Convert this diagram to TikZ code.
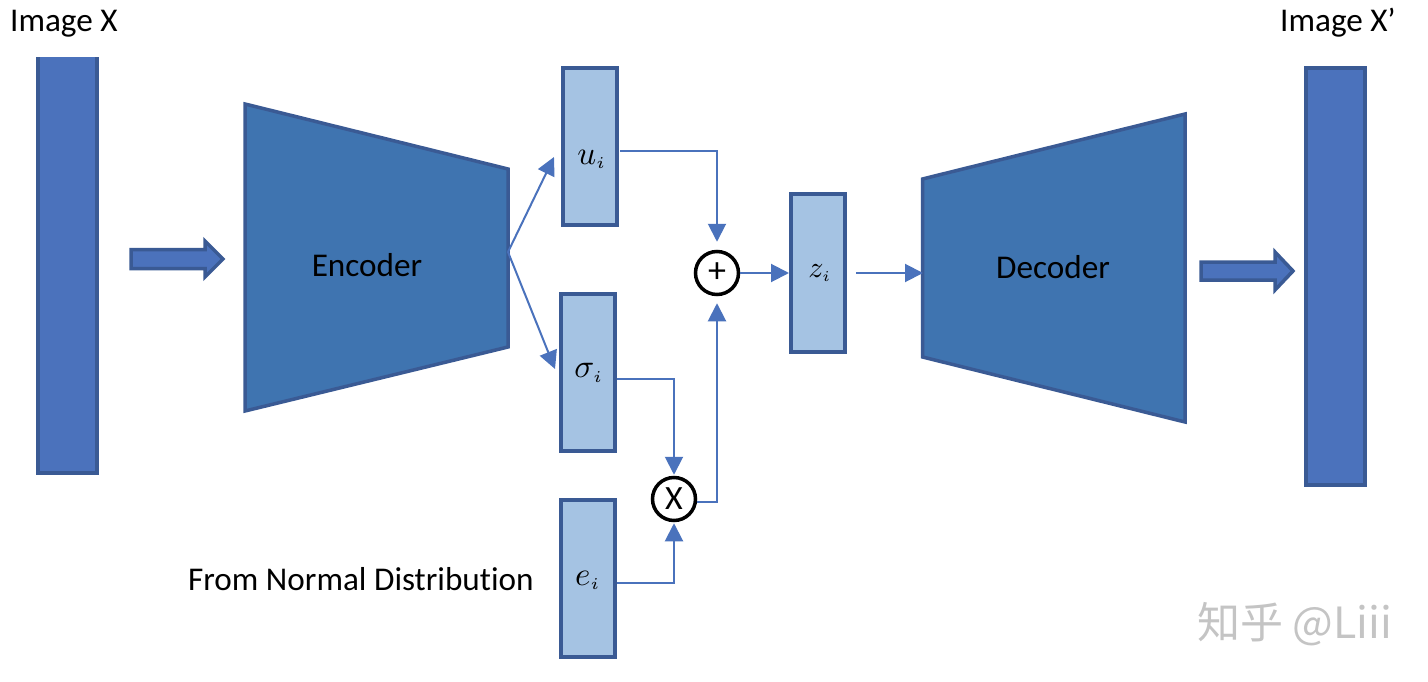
\documentclass[tikz,border=0pt]{standalone}
\usepackage{fontspec}
\setmainfont[Ligatures=NoCommon]{Carlito}
\newfontfamily\cjkwm{Noto Sans CJK SC}
\usetikzlibrary{arrows.meta,calc}
\definecolor{edgeblue}{HTML}{3A5A94}
\definecolor{fillblue}{HTML}{4B72BC}
\definecolor{trapblue}{HTML}{3F74B0}
\definecolor{lightblue}{HTML}{A5C3E3}
\definecolor{linkblue}{HTML}{4A72BC}
\definecolor{wmgrey}{HTML}{C4C4C4}
\newcommand{\latentsym}[2][3.3]{\scalebox{#1}{$#2$}}
\tikzset{
  imgbox/.style={draw=edgeblue,fill=fillblue,line width=4pt,minimum width=59pt,inner sep=0pt},
  latent/.style={draw=edgeblue,fill=lightblue,line width=4pt,minimum width=54pt,minimum height=157pt,inner sep=0pt},
  trap/.style={draw=edgeblue,fill=trapblue,line width=3.5pt,line join=miter},
  blockarrow/.style={draw=edgeblue,fill=fillblue,line width=3.5pt,line join=miter},
  opnode/.style={circle,draw=black,fill=white,line width=3.5pt,minimum size=43pt,inner sep=0pt},
  link/.style={draw=linkblue,line width=2pt,-{Triangle[width=18pt,length=18pt,fill=linkblue]}},
  caption/.style={font=\fontsize{33.2}{33.2}\selectfont,inner sep=0pt,text=black},
}
\begin{document}
\begin{tikzpicture}[x=1pt,y=-1pt]
\useasboundingbox (0,0) rectangle (1428,682);
% image boxes
\begin{scope}
  \clip (0,58) rectangle (1428,682);
  \node[imgbox,minimum height=420pt] (imgin) at (67,263) {};
\end{scope}
\node[imgbox,minimum height=417pt] (imgout) at (1335,276.5) {};
% encoder / decoder
\draw[trap] (245,104) -- (508,169) -- (508,347) -- (245,411) -- cycle;
\draw[trap] (922.5,179) -- (1185,114) -- (1185,422) -- (922.5,357) -- cycle;
\node[caption] (enc) at (367,265) {Encoder};
\node[caption] (dec) at (1053,267) {Decoder};
\coordinate (encout) at (508,252);
\coordinate (decin) at (923,273);
\coordinate (zout) at (856,273);
% block arrows
\draw[blockarrow] (131,249.5) -- (205,249.5) -- (205,241) -- (223,259) -- (205,277) -- (205,268.5) -- (131,268.5) -- cycle;
\draw[blockarrow] (1201,262) -- (1275,262) -- (1275,252) -- (1293,271) -- (1275,290) -- (1275,280) -- (1201,280) -- cycle;
% latent boxes
\node[latent] (u) at (590,146.5) {\hspace*{4pt}\raisebox{-17.5pt}[0pt][0pt]{\latentsym{u_{\scriptscriptstyle i}}}};
\node[latent] (s) at (588,372.5) {\hspace*{2pt}\latentsym{\sigma_{\scriptscriptstyle i}}};
\node[latent] (e) at (588,578.5) {\raisebox{-6.5pt}[0pt][0pt]{\latentsym{e_{\scriptscriptstyle i}}}};
\node[latent] (z) at (818,273) {\hspace*{4pt}\latentsym[3]{z_{\scriptscriptstyle i}}};
% operators
\node[opnode,font=\fontsize{36}{36}\selectfont] (plus) at (717,273) {+};
\node[opnode,font=\fontsize{34}{34}\selectfont] (times) at (674,499) {X};
% connectors
\draw[link] (encout) -- (554,157);
\draw[link] (encout) -- (555,369);
\draw[link,shorten >=8pt] ([yshift=-4.5pt,xshift=1pt]u.east) -| (plus.north);
\draw[link,shorten >=1pt] ([yshift=-6.5pt]s.east) -| (times.north);
\draw[link,shorten >=1pt] ([yshift=-4.5pt]e.east) -| (times.south);
\draw[link,shorten >=7pt] ([yshift=-3pt]times.east) -| (plus.south);
\draw[link] (plus.east) -- (z.west);
\draw[link] (zout) -- (decin);
% captions
\node[caption,anchor=base west] (ix) at (10,32) {Image X};
\node[caption,anchor=base west] (ixp) at (1280,32) {Image X’};
\node[caption,anchor=base west] (normal) at (188,590) {From Normal Distribution};
% watermark
\node[anchor=base west,inner sep=0pt,text=wmgrey,font=\cjkwm\fontsize{43}{43}\selectfont] (wm) at (1197,638) {知乎 @Liii};
\end{tikzpicture}
\end{document}
